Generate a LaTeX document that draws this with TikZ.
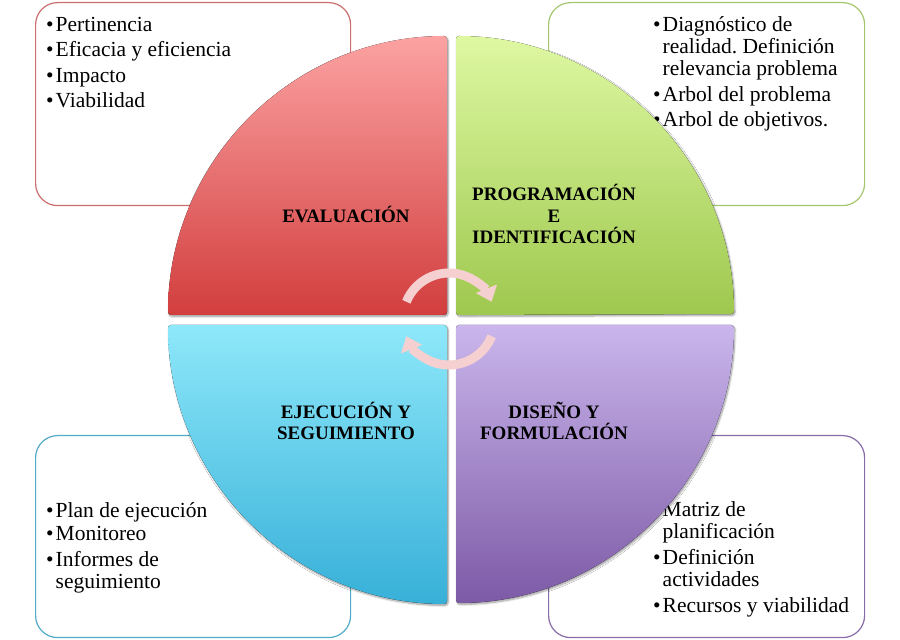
\documentclass[tikz,border=0pt]{standalone}
\usepackage{fontspec}
\setmainfont{Liberation Serif}
\usetikzlibrary{arrows.meta,shadows.blur}
\frenchspacing
\definecolor{redLine}{RGB}{205,110,110}
\definecolor{greenLine}{RGB}{165,198,110}
\definecolor{blueLine}{RGB}{80,172,200}
\definecolor{purpleLine}{RGB}{135,108,168}
\definecolor{redTop}{RGB}{252,162,162}
\definecolor{redBot}{RGB}{210,62,62}
\definecolor{greenTop}{RGB}{222,248,162}
\definecolor{greenBot}{RGB}{158,200,78}
\definecolor{blueTop}{RGB}{142,232,250}
\definecolor{blueBot}{RGB}{55,176,216}
\definecolor{purpleTop}{RGB}{202,182,236}
\definecolor{purpleBot}{RGB}{125,90,166}
\definecolor{arrowpink}{RGB}{246,208,208}
\begin{document}
\begin{tikzpicture}[x=1pt,y=1pt,
  infobox/.style={draw, line width=1.2pt, fill=white, rounded corners=22pt, anchor=north west, inner sep=0pt},
  boxtext/.style={anchor=north west, inner sep=0pt, font=\fontsize{21.5}{22}\selectfont\frenchspacing, align=left},
  quadlabel/.style={font=\fontsize{19}{21.5}\selectfont\bfseries, align=center, inner sep=0pt, anchor=base},
  quad/.style={rounded corners=3pt, blur shadow={shadow blur steps=6, shadow xshift=1pt, shadow yshift=-1.5pt, shadow opacity=40}},
  cyc/.style={draw=arrowpink, line width=9pt, -{Triangle[width=22pt,length=14pt]}}
]
\useasboundingbox (0,0) rectangle (900,640);
% boxes
\node[infobox, draw=redLine, minimum width=315pt, minimum height=203pt] (tlbox) at (35,638) {};
\node[infobox, draw=greenLine, minimum width=316pt, minimum height=203pt] (trbox) at (548,638) {};
\node[infobox, draw=blueLine, minimum width=315pt, minimum height=202pt] (blbox) at (35,205) {};
\node[infobox, draw=purpleLine, minimum width=316pt, minimum height=202pt] (brbox) at (548,205) {};
% box texts
\node[boxtext] (tltext) at (46,624.4) {\begin{tabular}{@{}l@{\hspace{2pt}}l@{}}•&Pertinencia\\[3.5pt] •&Eficacia y eficiencia\\[3.5pt] •&Impacto\\[3.5pt] •&Viabilidad\end{tabular}};
\node[boxtext] (trtext) at (653,624.4) {\begin{tabular}{@{}l@{\hspace{2pt}}l@{}}•&Diagnóstico de\\ &realidad. Definición\\ &relevancia problema\\[4pt] •&Arbol del problema\\[3pt] •&Arbol de objetivos.\end{tabular}};
\node[boxtext] (brtext) at (653,139.4) {\begin{tabular}{@{}l@{\hspace{2pt}}l@{}}•&Matriz de\\ &planificación\\[4pt] •&Definición\\ &actividades\\[4pt] •&Recursos y viabilidad\end{tabular}};
\node[boxtext] (bltext) at (46,138.4) {\begin{tabular}{@{}l@{\hspace{2pt}}l@{}}•&Plan de ejecución\\[1pt] •&Monitoreo\\[4pt] •&Informes de\\ &seguimiento\end{tabular}};
% quadrants
\fill[quad, top color=redTop, bottom color=redBot] (447,325) -- (168,325) arc[start angle=180, end angle=90, radius=279] -- cycle;
\fill[quad, top color=greenTop, bottom color=greenBot] (456,325) -- (456,604) arc[start angle=90, end angle=0, radius=278] -- cycle;
\fill[quad, top color=blueTop, bottom color=blueBot] (447,315) -- (447,36) arc[start angle=270, end angle=180, radius=279] -- cycle;
\fill[quad, top color=purpleTop, bottom color=purpleBot] (456,315) -- (734,315) arc[start angle=0, end angle=-90, radius=278] -- cycle;
% labels (base anchor = baseline of last line)
\node[quadlabel] (evaluacion) at (346,417) {EVALUACIÓN};
\node[quadlabel] (programacion) at (554,396) {PROGRAMACIÓN\\E\\IDENTIFICACIÓN};
\node[quadlabel] (ejecucion) at (346,200) {EJECUCIÓN Y\\SEGUIMIENTO};
\node[quadlabel] (diseno) at (554,200) {DISEÑO Y\\FORMULACIÓN};
% cycle arrows
\coordinate (cyc) at (449,321);
\draw[cyc] (cyc) ++(158:46) arc[start angle=158, end angle=22, radius=46];
\draw[cyc] (cyc) ++(-22:46) arc[start angle=-22, end angle=-158, radius=46];
\end{tikzpicture}
\end{document}
